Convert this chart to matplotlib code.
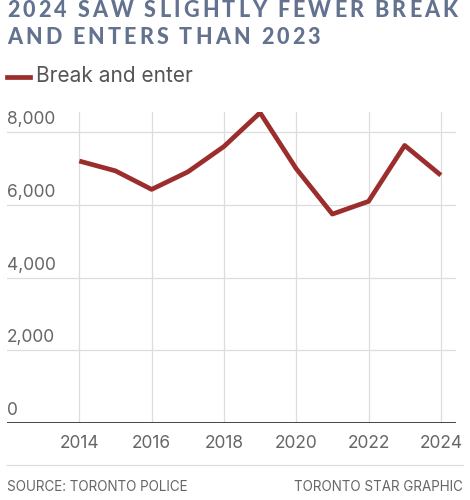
import matplotlib.pyplot as plt
from matplotlib.transforms import blended_transform_factory

# Datos
anios = [2014, 2015, 2016, 2017, 2018, 2019, 2020, 2021, 2022, 2023, 2024]
robos = [7210, 6940, 6430, 6910, 7610, 8540, 7000, 5750, 6100, 7640, 6820]
ticks_x = [2014, 2016, 2018, 2020, 2022, 2024]
ticks_y = [0, 2000, 4000, 6000, 8000]
etiquetas_y = ['0', '2,000', '4,000', '6,000', '8,000']

titulo = ['2024 SAW SLIGHTLY FEWER BREAK', 'AND ENTERS THAN 2023']
serie = 'Break and enter'
fuente = 'SOURCE: TORONTO POLICE'
credito = 'TORONTO STAR GRAPHIC'

rojo = '#9b2d2d'
gris = '#666666'
azul_titulo = '#63728f'

plt.rcParams['font.family'] = ['Inter', 'DejaVu Sans']

fig = plt.figure(figsize=(4.7, 5.0), dpi=100)
ax = fig.add_axes([7 / 470, 1 - 423 / 500, 449 / 470, 311 / 500])

ax.plot(anios, robos, color=rojo, linewidth=3.4, solid_capstyle='butt', zorder=3)

ax.set_xlim(2012, 2024.42)
ax.set_ylim(0, 8560)

# Rejilla
for x in ticks_x:
    ax.axvline(x, color='#dddddd', linewidth=0.9, zorder=1)
for y in ticks_y[1:]:
    ax.axhline(y, color='#dddddd', linewidth=0.9, zorder=1)
ax.axhline(0, color='#444444', linewidth=1.4, zorder=2)

trans = blended_transform_factory(ax.transAxes, ax.transData)
for y, lab in zip(ticks_y, etiquetas_y):
    ax.text(0, y + 110, lab, transform=trans, ha='left', va='bottom',
            fontsize=12.5, color=gris)

for s in ax.spines.values():
    s.set_visible(False)
ax.set_xticks(ticks_x)
ax.set_xticklabels([str(t) for t in ticks_x], fontsize=12.5, color=gris)
ax.tick_params(axis='x', length=0, pad=9)
ax.set_yticks([])

# Titulo con espaciado entre letras (a mano, letra por letra)
renderer = fig.canvas.get_renderer()
espacio = 3.15  # px
for i, linea in enumerate(titulo):
    x_px = 7
    y_fig = 1 - (27 * i) / 500
    for ch in linea:
        t = fig.text(x_px / 470, y_fig, ch, ha='left', va='top',
                     fontsize=15.5, fontweight='black', color=azul_titulo,
                     family=['Lato', 'DejaVu Sans'])
        if ch == ' ':
            ancho = 4.5
        else:
            ancho = t.get_window_extent(renderer).width
        x_px += ancho + espacio

# Leyenda
fig.add_artist(plt.Line2D([7 / 470, 30 / 470], [1 - 77 / 500, 1 - 77 / 500],
                          color=rojo, linewidth=3.4))
fig.text(36 / 470, 1 - 76 / 500, serie, ha='left', va='center',
         fontsize=15, color='#555555')

# Pie
fig.add_artist(plt.Line2D([7 / 470, 463 / 470], [1 - 465 / 500, 1 - 465 / 500],
                          color='#dddddd', linewidth=0.9))
fig.text(7 / 470, 1 - 487 / 500, fuente, ha='left', va='center',
         fontsize=9.7, color=gris)
fig.text(463 / 470, 1 - 487 / 500, credito, ha='right', va='center',
         fontsize=9.7, color=gris)

fig.savefig('out.png', dpi=100)
